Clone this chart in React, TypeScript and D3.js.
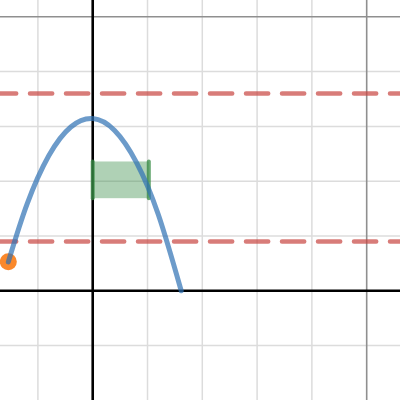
import React from "react";
import * as d3 from "d3";

// ---- data ----
const curveX = [-1.54, -1.2, -0.8, -0.4, 0, 0.4, 0.8, 1.2, 1.615];
const curveY = [0.528, 1.577, 2.468, 2.99, 3.143, 2.925, 2.339, 1.382, 0.0];
const dashedLevels = [3.6, 0.9];
const boxX = [0, 1.024];
const boxY = [1.69, 2.36];
const pointX = [-1.54];
const pointY = [0.53];
const minorTicksX = [-1, 1, 2, 3, 4];
const minorTicksY = [-1, 1, 2, 3, 4];
const majorTicksX = [5];
const majorTicksY = [5];

const W = 400;
const H = 400;

export default function App() {
  const x = d3.scaleLinear().domain([-1.692, 5.608]).range([0, W]);
  const y = d3.scaleLinear().domain([-1.993, 5.307]).range([H, 0]);

  const pts: [number, number][] = curveX.map((v, i) => [v, curveY[i]]);
  const line = d3
    .line<[number, number]>()
    .x((d) => x(d[0]))
    .y((d) => y(d[1]))
    .curve(d3.curveNatural);

  const [x0, x1] = x.domain();
  const [y0, y1] = y.domain();

  return (
    <svg
      width={W}
      height={H}
      style={{ position: "fixed", left: 0, top: 0, background: "#fff" }}
    >
      <rect x={0} y={0} width={W} height={H} fill="#fff" />
      {/* minor grid */}
      {minorTicksX.map((t) => (
        <line key={"mx" + t} x1={x(t)} x2={x(t)} y1={0} y2={H} stroke="#dcdcdc" strokeWidth={1.5} />
      ))}
      {minorTicksY.map((t) => (
        <line key={"my" + t} y1={y(t)} y2={y(t)} x1={0} x2={W} stroke="#dcdcdc" strokeWidth={1.5} />
      ))}
      {/* major grid */}
      {majorTicksX.map((t) => (
        <line key={"Mx" + t} x1={x(t)} x2={x(t)} y1={0} y2={H} stroke="#8f8f8f" strokeWidth={1.6} />
      ))}
      {majorTicksY.map((t) => (
        <line key={"My" + t} y1={y(t)} y2={y(t)} x1={0} x2={W} stroke="#8f8f8f" strokeWidth={1.6} />
      ))}
      {/* axes */}
      <line x1={x(0)} x2={x(0)} y1={0} y2={H} stroke="#000" strokeWidth={2.6} />
      <line y1={y(0)} y2={y(0)} x1={0} x2={W} stroke="#000" strokeWidth={2.6} />

      {/* dashed horizontal lines */}
      {dashedLevels.map((lv) => (
        <line
          key={"d" + lv}
          x1={x(x0)}
          x2={x(x1)}
          y1={y(lv)}
          y2={y(lv)}
          stroke="#c74440"
          strokeOpacity={0.7}
          strokeWidth={4.5}
          strokeLinecap="round"
          strokeDasharray="22.2 13.8"
          strokeDashoffset={6}
        />
      ))}

      {/* green box */}
      <rect
        x={x(boxX[0])}
        y={y(boxY[1])}
        width={x(boxX[1]) - x(boxX[0])}
        height={y(boxY[0]) - y(boxY[1])}
        fill="#388c46"
        fillOpacity={0.4}
      />
      {boxX.map((bx) => (
        <line
          key={"b" + bx}
          x1={x(bx)}
          x2={x(bx)}
          y1={y(boxY[0])}
          y2={y(boxY[1])}
          stroke="#388c46"
          strokeOpacity={0.75}
          strokeWidth={4}
          strokeLinecap="round"
        />
      ))}

      {/* orange point */}
      {pointX.map((px, i) => (
        <circle key={"p" + i} cx={x(px)} cy={y(pointY[i])} r={8.5} fill="#fa7e19" fillOpacity={0.92} />
      ))}

      {/* blue curve */}
      <path
        d={line(pts) ?? ""}
        fill="none"
        stroke="#2d70b3"
        strokeOpacity={0.7}
        strokeWidth={5}
        strokeLinecap="round"
        strokeLinejoin="round"
      />
    </svg>
  );
}
